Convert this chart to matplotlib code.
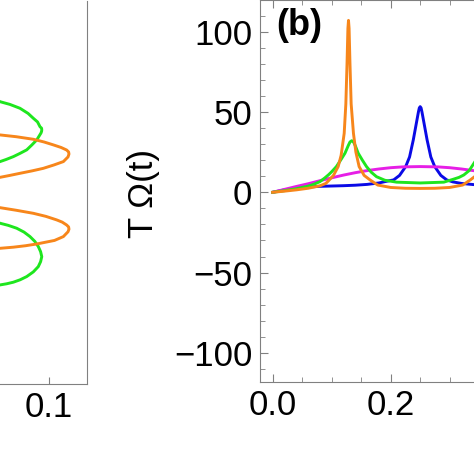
import matplotlib
matplotlib.use('Agg')
import matplotlib.pyplot as plt
from matplotlib.ticker import MultipleLocator

plt.rcParams['font.family'] = ['Liberation Sans', 'DejaVu Sans']

# panel (b): T*Omega(t) against t
t_blue = [0.0, 0.02, 0.04, 0.06, 0.08, 0.10, 0.12, 0.14, 0.16, 0.18, 0.195, 0.205, 0.215,
          0.2254, 0.232, 0.2383, 0.243, 0.247, 0.2485, 0.25, 0.2515, 0.253, 0.257, 0.2617,
          0.268, 0.2746, 0.285, 0.295, 0.305, 0.32, 0.34, 0.36]
w_blue = [0.0, 1.5, 2.6, 3.3, 3.7, 3.9, 4.1, 4.4, 4.9, 5.8, 7.0, 7.7, 10.5,
          16.0, 22.0, 32.6, 42.0, 50.0, 52.5, 53.3, 52.5, 50.0, 42.0, 32.6,
          22.0, 16.0, 10.5, 7.7, 6.5, 5.5, 4.8, 4.4]

t_mag = [0.0, 0.02, 0.04, 0.06, 0.08, 0.10, 0.12, 0.14, 0.16, 0.18, 0.20, 0.22, 0.25,
         0.28, 0.30, 0.32, 0.34, 0.36]
w_mag = [0.0, 1.8, 3.6, 5.3, 7.2, 9.0, 10.7, 12.2, 13.5, 14.5, 15.3, 15.8, 16.0,
         15.8, 15.3, 14.5, 13.5, 12.2]

t_green = [0.0, 0.02, 0.04, 0.06, 0.07, 0.08, 0.0886, 0.095, 0.10, 0.108, 0.116, 0.1225,
           0.128, 0.131, 0.134, 0.137, 0.140, 0.145, 0.152, 0.159, 0.167, 0.176, 0.19,
           0.21, 0.25, 0.29, 0.306, 0.316, 0.324, 0.333, 0.341, 0.348, 0.355, 0.36]
w_green = [0.0, 1.0, 2.2, 3.8, 5.0, 6.6, 9.0, 11.0, 12.8, 16.0, 20.5, 24.3,
           29.0, 31.3, 32.1, 31.3, 29.0, 24.3, 20.0, 16.0, 12.5, 9.7, 7.5,
           6.3, 5.8, 6.3, 8.1, 9.3, 10.8, 13.5, 18.0, 22.0, 27.0, 30.0]

t_orange = [0.0, 0.02, 0.04, 0.06, 0.08, 0.09, 0.096, 0.103, 0.111, 0.116, 0.1212, 0.124,
            0.126, 0.1275, 0.1285, 0.1295, 0.131, 0.133, 0.1369, 0.141, 0.1465, 0.155,
            0.165, 0.178, 0.20, 0.225, 0.25, 0.275, 0.30, 0.322, 0.335, 0.345, 0.3535,
            0.359, 0.3631]
w_orange = [0.0, 0.7, 1.5, 2.5, 4.0, 5.5, 7.7, 10.5, 16.0, 23.0, 36.7, 55.0,
            80.0, 102.0, 107.0, 102.0, 80.0, 55.0, 36.7, 25.0, 16.0, 10.5,
            7.7, 4.5, 3.0, 2.5, 2.4, 2.5, 3.0, 4.5, 7.7, 10.5, 16.0,
            25.0, 36.7]

# left panel: visible tips of the loops
gx_up = [0.0695, 0.0748, 0.0799, 0.0851, 0.0893, 0.0920, 0.0942, 0.0955, 0.0963, 0.0964,
         0.0963, 0.0960, 0.0938, 0.0913, 0.0886, 0.0851, 0.0817, 0.0779, 0.0748, 0.0695]
gy_up = [60.0, 56.4, 54.7, 52.3, 49.1, 46.1, 43.8, 40.8, 39.9, 38.8,
         37.9, 36.9, 32.6, 29.5, 26.4, 24.2, 22.2, 20.4, 19.1, 17.0]
gx_lo = [0.0695, 0.0748, 0.0790, 0.0834, 0.0872, 0.0903, 0.0928, 0.0946, 0.0958, 0.0964,
         0.0958, 0.0946, 0.0920, 0.0886, 0.0852, 0.0817, 0.0782, 0.0748, 0.0695]
gy_lo = [-16.9, -19.3, -20.6, -22.4, -24.8, -27.6, -30.6, -33.8, -37.0, -40.1,
         -43.2, -46.3, -49.6, -52.5, -54.5, -56.0, -57.0, -57.7, -59.6]
ox_up = [0.0695, 0.0748, 0.0831, 0.0920, 0.0976, 0.1024, 0.1064, 0.1093, 0.1103, 0.1105,
         0.1100, 0.1076, 0.1027, 0.0972, 0.0913, 0.0851, 0.0799, 0.0748, 0.0695]
oy_up = [36.6, 35.7, 34.6, 33.0, 31.3, 29.5, 27.9, 26.3, 25.1, 23.8,
         22.0, 19.1, 17.0, 14.9, 13.3, 11.8, 10.5, 9.3, 8.3]
ox_lo = [0.0695, 0.0748, 0.0831, 0.0920, 0.0985, 0.1041, 0.1070, 0.1093, 0.1103, 0.1105,
         0.1100, 0.1076, 0.1030, 0.0938, 0.0880, 0.0817, 0.0748, 0.0695]
oy_lo = [-8.8, -9.6, -11.2, -13.1, -15.0, -17.2, -18.6, -20.4, -21.6, -23.0,
         -24.6, -27.6, -30.0, -32.2, -33.3, -34.2, -34.9, -35.3]

c_blue = '#0a0ae6'
c_mag = '#e61ee6'
c_green = '#1ee61e'
c_orange = '#f7861b'
spine_c = '#808080'
lw = 2.1

fig = plt.figure(figsize=(4.74, 4.74), dpi=100)

# left panel (mostly cropped away)
axl = fig.add_axes([-0.7929, 0.1892, 0.9771, 0.8097])
for xs, ys, c in [(gx_up, gy_up, c_green), (gx_lo, gy_lo, c_green),
                  (ox_up, oy_up, c_orange), (ox_lo, oy_lo, c_orange)]:
    axl.plot(xs, ys, color=c, lw=lw, solid_joinstyle='round')
axl.set_xlim(-0.12, 0.12)
axl.set_ylim(-119.6, 119.4)
axl.set_xticks([0.1])
axl.set_xticklabels(['0.1'])
axl.set_yticks([])
for s in axl.spines.values():
    s.set_color(spine_c)
axl.spines['top'].set_visible(False)
axl.tick_params(axis='x', direction='in', length=5, color=spine_c, labelsize=25, pad=5)

# panel (b)
ax = fig.add_axes([0.5485, 0.1941, 0.6492, 0.8049])
ax.plot(t_blue, w_blue, color=c_blue, lw=lw, solid_joinstyle='round')
ax.plot(t_mag, w_mag, color=c_mag, lw=lw, solid_joinstyle='round')
ax.plot(t_green, w_green, color=c_green, lw=lw, solid_joinstyle='round')
ax.plot(t_orange, w_orange, color=c_orange, lw=lw, solid_joinstyle='round')
ax.set_xlim(-0.0215, 0.5)
ax.set_ylim(-118.1, 119.4)
ax.set_xticks([0.0, 0.2, 0.4])
ax.set_xticklabels(['0.0', '0.2', ''])
ax.xaxis.set_minor_locator(MultipleLocator(0.05))
ax.set_yticks([-100, -50, 0, 50, 100])
ax.yaxis.set_minor_locator(MultipleLocator(10))
for s in ax.spines.values():
    s.set_color(spine_c)
ax.tick_params(which='both', direction='in', color=spine_c, top=True, right=True)
ax.tick_params(which='major', length=6, labelsize=25)
ax.tick_params(which='minor', length=3.5)
ax.tick_params(axis='x', pad=5)
ax.tick_params(axis='y', pad=5.5)
ax.set_ylabel('T \u03a9(t)', fontsize=25)
ax.yaxis.set_label_coords(-0.325, 0.493)
ax.text(0.0056, 114.5, '(b)', fontsize=26, fontweight='bold', va='top', ha='left')

fig.savefig('out.png', dpi=100)
